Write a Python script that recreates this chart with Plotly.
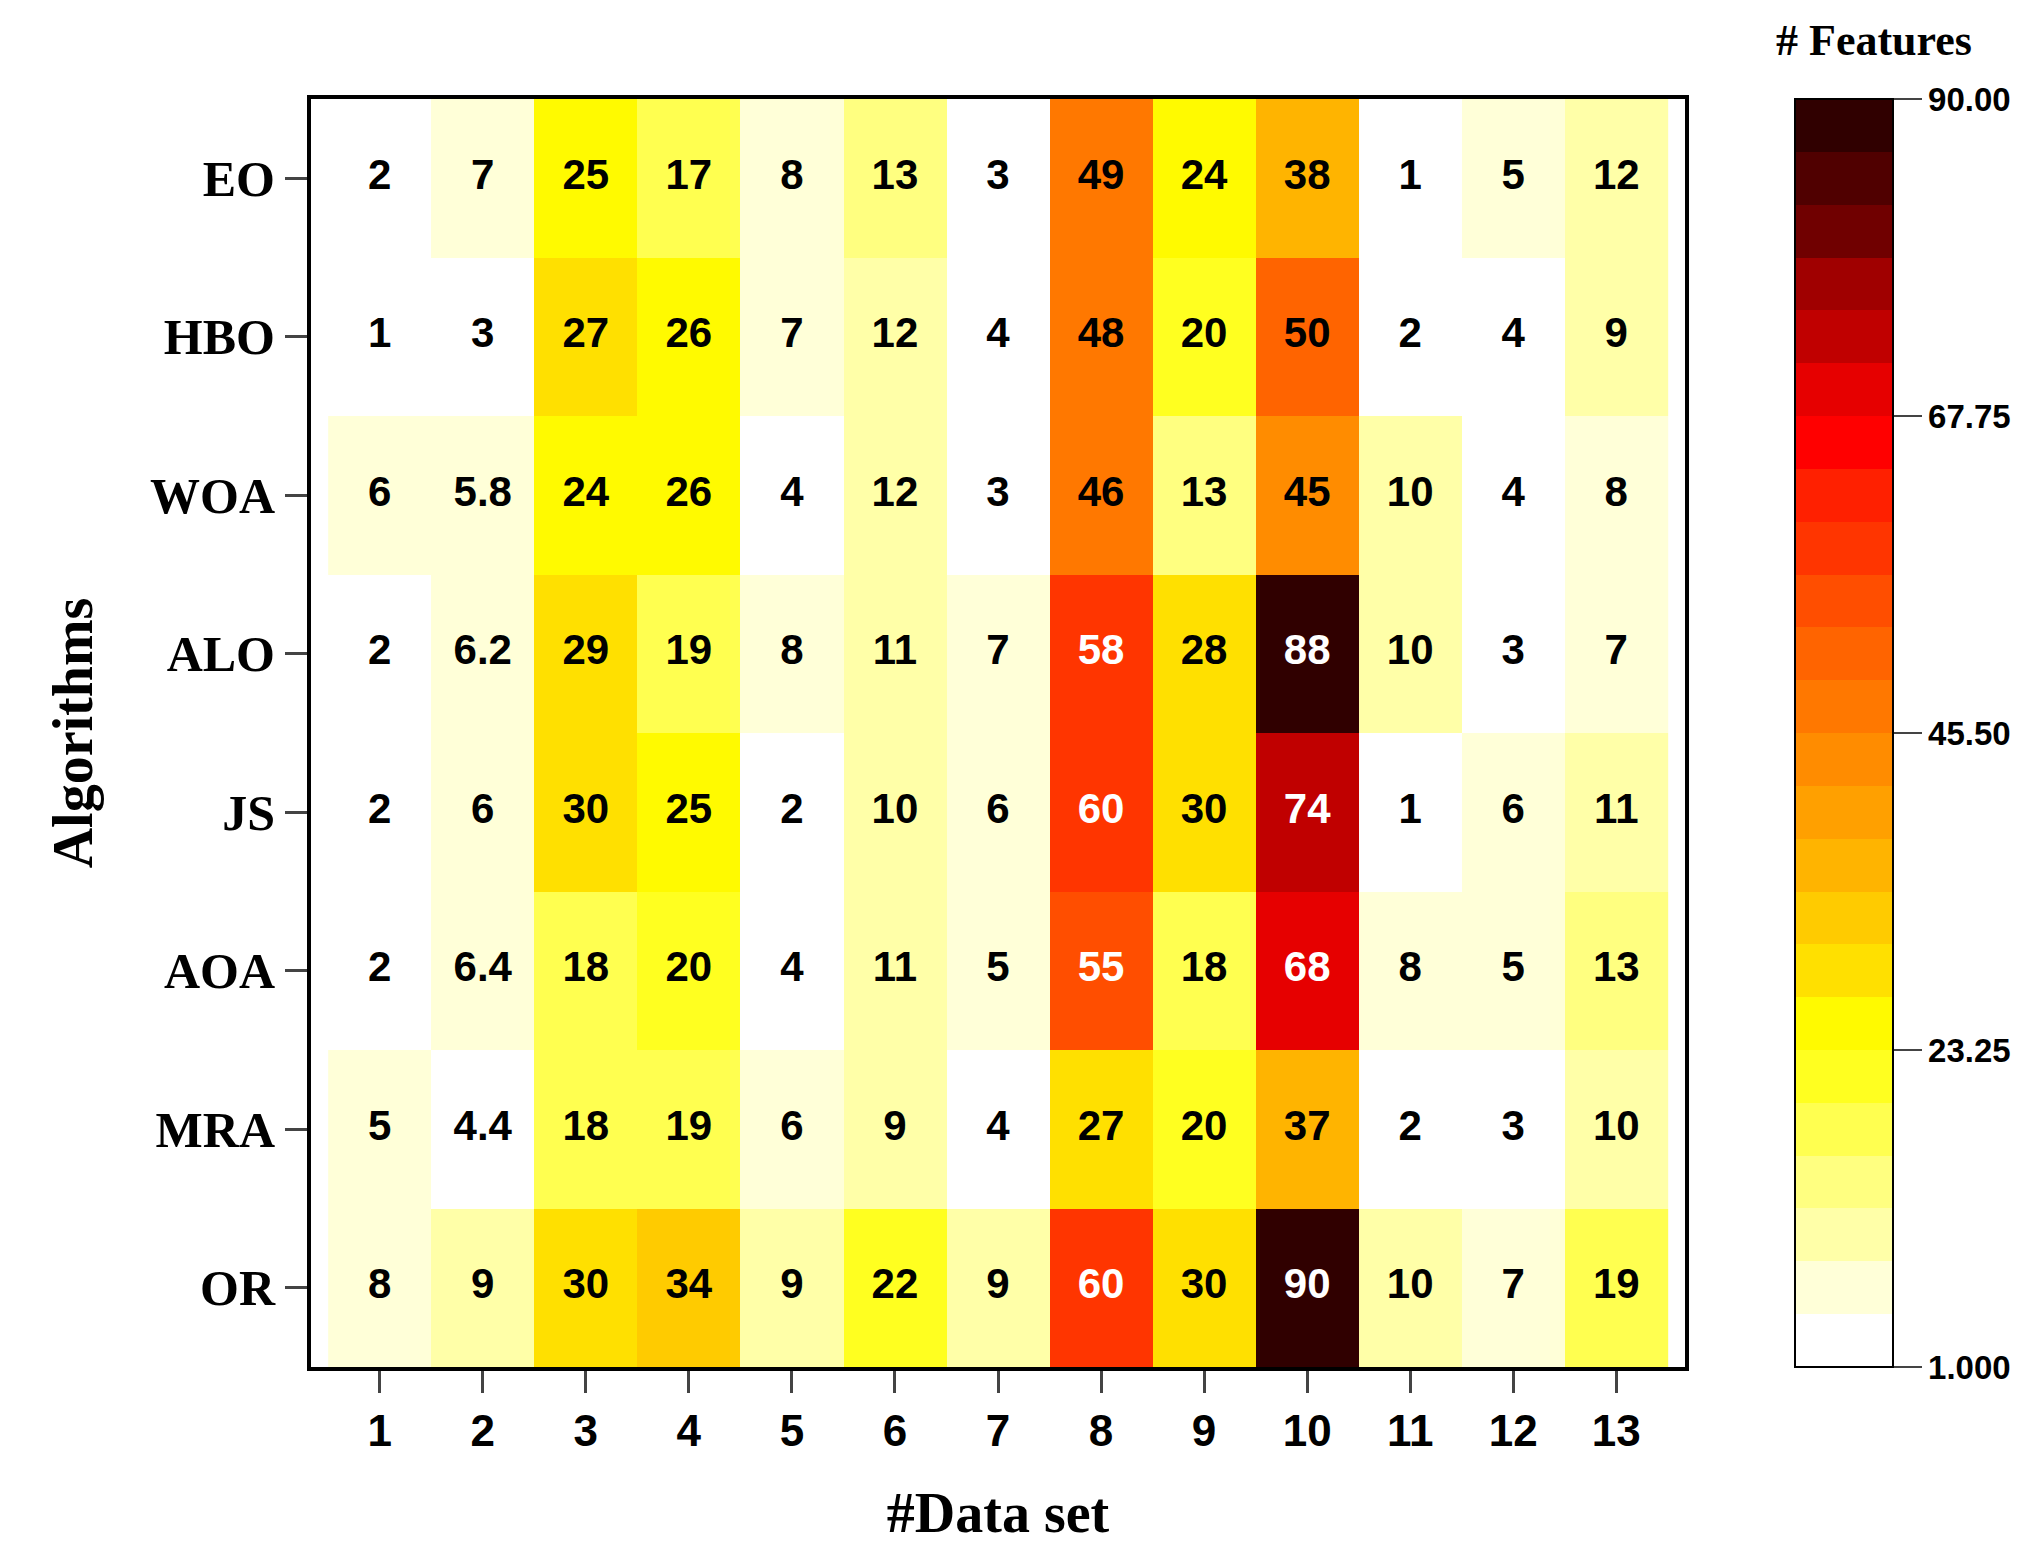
import plotly.graph_objects as go

datasets = [str(i) for i in range(1, 14)]
algorithms = ["EO", "HBO", "WOA", "ALO", "JS", "AOA", "MRA", "OR"]
features = [
    [2, 7, 25, 17, 8, 13, 3, 49, 24, 38, 1, 5, 12],
    [1, 3, 27, 26, 7, 12, 4, 48, 20, 50, 2, 4, 9],
    [6, 5.8, 24, 26, 4, 12, 3, 46, 13, 45, 10, 4, 8],
    [2, 6.2, 29, 19, 8, 11, 7, 58, 28, 88, 10, 3, 7],
    [2, 6, 30, 25, 2, 10, 6, 60, 30, 74, 1, 6, 11],
    [2, 6.4, 18, 20, 4, 11, 5, 55, 18, 68, 8, 5, 13],
    [5, 4.4, 18, 19, 6, 9, 4, 27, 20, 37, 2, 3, 10],
    [8, 9, 30, 34, 9, 22, 9, 60, 30, 90, 10, 7, 19],
]
cbar_ticks = [1.0, 23.25, 45.5, 67.75, 90.0]
cbar_labels = ["1.000", "23.25", "45.50", "67.75", "90.00"]

# 24 stepped bands, bottom (white) to top (dark red)
bands = ["#FFFFFF", "#FFFFD8", "#FFFFA8", "#FFFF80", "#FFFF50", "#FFFF20",
         "#FFFA00", "#FFE000", "#FFCB00", "#FFB400", "#FFA000", "#FF8C00",
         "#FF7800", "#FF6400", "#FF4E00", "#FF3500", "#FF2000", "#FF0000",
         "#E60000", "#C00000", "#A00000", "#700000", "#500000", "#300000"]
n = len(bands)
cscale = []
for i, c in enumerate(bands):
    cscale.append([i / n, c])
    cscale.append([(i + 1) / n, c])

fig = go.Figure(go.Heatmap(
    z=features, x=datasets, y=algorithms, zmin=1, zmax=90,
    colorscale=cscale, xgap=0, ygap=0,
    colorbar=dict(
        tickvals=cbar_ticks, ticktext=cbar_labels, ticks="outside",
        ticklen=28, tickwidth=2, outlinewidth=2, outlinecolor="black",
        tickfont=dict(family="Liberation Sans", size=33, color="black", weight="bold"),
        x=1.073, xanchor="left", y=0.5, len=1.0, lenmode="fraction", thickness=98,
        ypad=0,
    ),
))

for color, test in [("black", lambda v: v < 55), ("white", lambda v: v >= 55)]:
    xs, ys, ts = [], [], []
    for r, alg in enumerate(algorithms):
        for c, ds in enumerate(datasets):
            v = features[r][c]
            if test(v):
                xs.append(ds)
                ys.append(alg)
                ts.append(str(v))
    fig.add_trace(go.Scatter(
        x=xs, y=ys, text=ts, mode="text", showlegend=False, hoverinfo="skip",
        textfont=dict(family="Liberation Sans", size=42, color=color, weight="bold"),
    ))

fig.add_annotation(text="<b># Features</b>", xref="paper", yref="paper",
                   x=1.21, y=1.025, xanchor="right", yanchor="bottom", showarrow=False,
                   font=dict(family="Liberation Serif", size=44, color="black"))

fig.update_layout(
    width=2039, height=1556, plot_bgcolor="white", paper_bgcolor="white",
    margin=dict(l=303, r=362, t=91, b=197),
    xaxis=dict(title=dict(text="<b>#Data set</b>", standoff=40,
                          font=dict(family="Liberation Serif", size=56, color="black")),
               tickfont=dict(family="Liberation Sans", size=44, color="black", weight="bold"),
               ticks="outside", ticklen=22, tickwidth=3, showline=True, linewidth=4,
               linecolor="black", mirror=True),
    yaxis=dict(title=dict(text="<b>Algorithms</b>", standoff=40,
                          font=dict(family="Liberation Serif", size=56, color="black")),
               tickfont=dict(family="Liberation Serif", size=50, color="black", weight="bold"),
               ticks="outside", ticklen=22, tickwidth=3, showline=True, linewidth=4,
               linecolor="black", mirror=True, autorange="reversed"),
)

fig.write_html("out.html")
